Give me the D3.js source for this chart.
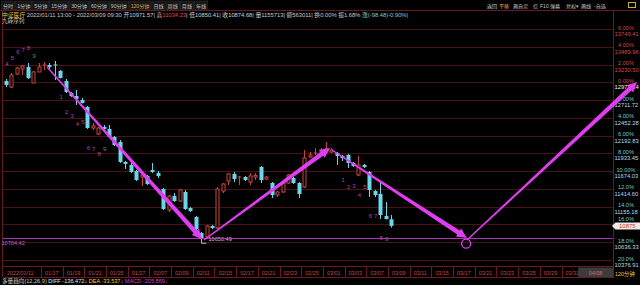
<!DOCTYPE html>
<html>
<head>
<meta charset="utf-8">
<script src="https://cdn.jsdelivr.net/npm/d3@7"></script>
<style>
body{margin:0;background:#000}
svg{display:block}
text{font-family:"Liberation Sans","Noto Sans CJK SC",sans-serif}
</style>
</head>
<body>
<script>
// 120分钟 K线, 2022/01/11 13:00 - 2022/03/09 09:30
const opens  = [12990,12903,13093,13166,13195,12961,13122,13209,13224,13231,13137,12990,12815,12771,12713,12611,12304,12217,12319,12290,12173,12100,11808,11764,11676,11589,11603,11691,11647,11414,11107,11311,11238,11370,11136,11005,10771,10713,10873,10844,11384,11530,11633,11574,11589,11516,11589,11735,11560,11501,11326,11370,11501,11574,11501,11443,11881,11925,11939,11954,11954,11939,11895,11910,11793,11618,11764,11662,11384,11341,11019,10971.57];
const highs  = [13020,13107,13195,13224,13253,13136,13253,13268,13253,13282,13151,13020,12830,12859,12742,12625,12377,12319,12348,12348,12187,12129,11822,11793,11691,11662,11618,11793,11676,11428,11326,11355,11414,11399,11151,11019,10786,10888,10888,11443,11501,11647,11662,11603,11603,11647,11647,11749,11603,11516,11384,11516,11633,11589,11516,11983,11954,12012,12012,12100,12012,11954,11910,11925,11808,11895,11779,11676,11399,11501,11224,11034.23];
const lows   = [12903,12888,13078,13078,13020,12961,13122,13151,13166,13005,13027,12815,12757,12640,12662,12290,12275,12202,12275,12165,12041,11793,11706,11647,11530,11457,11472,11647,11574,11107,11078,11224,11224,11107,11078,10800,10650.49,10698,10829,10829,11355,11472,11516,11472,11530,11472,11545,11501,11545,11282,11297,11355,11487,11487,11282,11428,11866,11910,11925,11939,11939,11764,11822,11720,11735,11603,11720,11297,11297,10975,10968,10850.41];
const closes = [12932,13078,13180,13209,13034,13122,13195,13224,13195,13217,13034,12830,12771,12728,12669,12304,12333,12304,12290,12173,12056,11808,11779,11662,11545,11618,11487,11662,11603,11121,11311,11238,11399,11121,11092,10830,10698,10873,10844,11414,11487,11633,11560,11589,11545,11603,11611,11545,11589,11326,11370,11501,11618,11501,11341,11866,11910,11939,11983,11998,11983,11895,11866,11793,11749,11764,11735,11399,11326,11034,10975,10874.68];

// right axis
const pctLabels   = ["6.00%","4.00%","2.00%","0.00%","2.00%","4.00%","6.00%","8.00%","10.00%","12.0%","14.0%","16.0%","18.0%","20.0%"];
const priceLabels = ["13749.41","13489.96","13230.50","12971.14","12711.72","12452.28","12192.83","11933.45","11674.03","11414.60","11155.18","10895.76","10636.33","10376.91"];

// time axis (bar index of each label)
const tickBars   = [0,7,11,15,19,23,27,31,35,39,43,47,51,55,59,63,67,71,75,79,83,87,91,95,99,103];
const tickLabels = ["2022/01/11","01/17","01/19","01/21","01/25","01/27","02/07","02/09","02/11","02/15","02/17","02/21","02/23","02/25","03/01","03/03","03/07","03/09","03/11","03/15","03/17","03/21","03/23","03/25","03/29","03/31"];
const cursorBar = 107, cursorLabel = "04/08";

// 九转序列
const tdUpBars = [0,1,2,3,4,5], tdUpNums = [4,5,6,7,8,9];
const tdDnBars = [10,11,12,13,14,15,16,17,18,62,63,64,65,66,67,68,69,70];
const tdDnNums = [1,2,3,4,5,6,7,8,9,1,2,3,4,5,6,7,8,9];

// drawn objects: [bar, price]
const arrowFrom = [[7.56,13195],[36.5,10669],[60.1,11983],[85.0,10669]];
const arrowTo   = [[36.15,10680],[59.75,12012],[85.0,10698],[116.4,12976]];
const circleAt  = [84.85,10615];
const hLinePrice = 10704.42;
const lastPrice = 10874.68;

const W = 640, H = 285;
const svg = d3.select("body").append("svg").attr("width",W).attr("height",H)
    .style("background","#000");

const x = d3.scaleLinear().domain([0,71]).range([6,391]);
const y = d3.scaleLinear().domain([10376.91,13749.41]).range([260,29]);
const axisX = 613, red = "#c8463e", cyan = "#6ad6ea", grid = "#4a1212", frame = "#6a1a1a";

// frame + grid
svg.append("line").attr("x1",0).attr("x2",W).attr("y1",10.5).attr("y2",10.5).attr("stroke",frame);
svg.append("line").attr("x1",2.5).attr("x2",2.5).attr("y1",10).attr("y2",277).attr("stroke",frame);
svg.append("line").attr("x1",axisX+0.5).attr("x2",axisX+0.5).attr("y1",10).attr("y2",278).attr("stroke",frame);

svg.selectAll(".grid").data(priceLabels).enter().append("line")
    .attr("x1",3).attr("x2",axisX)
    .attr("y1",d=>Math.round(y(+d))+0.5).attr("y2",d=>Math.round(y(+d))+0.5)
    .attr("stroke",grid);

// right axis labels (the price under the last-price box is hidden)
const py = y(lastPrice);
priceLabels.forEach((p,i)=>{
    const yy = y(+p), up = i < 3, zero = i === 3;
    const nearBox = Math.abs(yy - py) < 6;
    svg.append("text").attr("x",626).attr("y",nearBox ? py-4.6 : yy+0.5).attr("text-anchor","middle")
        .attr("font-size",5.6).attr("fill", up||zero ? "#d04848" : "#6cc8d4").text(pctLabels[i]);
    if (!nearBox)
        svg.append("text").attr("x",614.5).attr("y",yy+7)
            .attr("font-size",5.8).attr("fill", up ? "#d04848" : zero ? "#f0f0f0" : "#b4dde6").text(p);
});

// time axis
svg.append("line").attr("x1",3).attr("x2",axisX).attr("y1",266.5).attr("y2",266.5).attr("stroke",frame);
svg.append("line").attr("x1",3).attr("x2",axisX).attr("y1",277.5).attr("y2",277.5).attr("stroke",frame);
tickBars.forEach((b,i)=>{
    if (i>0) svg.append("line").attr("x1",Math.round(x(b))-2.5).attr("x2",Math.round(x(b))-2.5)
        .attr("y1",267).attr("y2",277).attr("stroke",frame);
    svg.append("text").attr("x",x(b)+1).attr("y",274.5).attr("font-size",5.4)
        .attr("fill","#c84848").text(tickLabels[i]);
});
svg.append("rect").attr("x",x(cursorBar)-8).attr("y",267.5).attr("width",axisX-x(cursorBar)+8).attr("height",9.5)
    .attr("fill","#3c3c3c");
svg.append("text").attr("x",(x(cursorBar)-8+axisX)/2).attr("y",274.5).attr("text-anchor","middle")
    .attr("font-size",5.4).attr("fill","#d07070").text(cursorLabel);
svg.append("text").attr("x",615).attr("y",275.5).attr("font-size",5.4).attr("fill","#e8c848").text("120分钟");

// candles
const bars = opens.map((o,i)=>({i,o,h:highs[i],l:lows[i],c:closes[i]}));
const cg = svg.append("g");
bars.forEach(d=>{
    const cx = Math.round(x(d.i))+0.5, up = d.c >= d.o;
    const col = up ? red : cyan;
    cg.append("line").attr("x1",cx).attr("x2",cx).attr("y1",y(d.h)).attr("y2",y(d.l)).attr("stroke",col);
    const top = y(Math.max(d.o,d.c)), bot = y(Math.min(d.o,d.c));
    if (up) {
        if (bot-top < 1.5) {
            cg.append("line").attr("x1",cx-2).attr("x2",cx+2).attr("y1",top).attr("y2",top).attr("stroke",col);
        } else {
            cg.append("rect").attr("x",cx-1.5).attr("y",top).attr("width",3).attr("height",bot-top)
                .attr("fill","#000").attr("stroke",col);
        }
    } else {
        cg.append("rect").attr("x",cx-2).attr("y",top).attr("width",4).attr("height",Math.max(1,bot-top))
            .attr("fill",col);
    }
});

// 九转序列 digits
tdUpBars.forEach((b,i)=>{
    svg.append("text").attr("x",x(b)+1).attr("y",y(highs[b])-13).attr("text-anchor","middle")
        .attr("font-size",6).attr("fill",tdUpNums[i]===9?"#3fa83f":"#b040b8").text(tdUpNums[i]);
});
tdDnBars.forEach((b,i)=>{
    svg.append("text").attr("x",x(b)+1).attr("y",y(lows[b])+21).attr("text-anchor","middle")
        .attr("font-size",6).attr("fill",tdDnNums[i]===9?"#3fa83f":"#b040b8").text(tdDnNums[i]);
});

// low marker
const lowIdx = d3.minIndex(lows);
const lx = Math.round(x(lowIdx))+0.5, ly = y(lows[lowIdx]);
svg.append("path").attr("d",`M${lx},${ly-3}V${ly+2}H${lx+5}`).attr("fill","none").attr("stroke","#bbb");
svg.append("text").attr("x",lx+7).attr("y",ly).attr("font-size",5.6).attr("fill","#c8c8c8")
    .text(d3.format(".2f")(lows[lowIdx]));

// horizontal line
const hy = Math.round(y(hLinePrice))+0.5;
svg.append("line").attr("x1",3).attr("x2",axisX).attr("y1",hy).attr("y2",hy).attr("stroke","#b030c0");
svg.append("text").attr("x",1.5).attr("y",hy+6).attr("font-size",5.6).attr("fill","#d060d0").text(hLinePrice.toFixed(2));

// arrows (tapered)
const mag = "#de3ef0";
function arrow(a,b){
    const x0=x(a[0]),y0=y(a[1]),x1=x(b[0]),y1=y(b[1]);
    const dx=x1-x0, dy=y1-y0, L=Math.hypot(dx,dy), ux=dx/L, uy=dy/L, nx=-uy, ny=ux;
    const hl=10, hw=4.8, w0=0.6, w1=2.3;
    const bx=x1-ux*hl, by=y1-uy*hl;
    const pts=[[x0+nx*w0,y0+ny*w0],[bx+nx*w1,by+ny*w1],[bx+nx*hw,by+ny*hw],[x1,y1],
               [bx-nx*hw,by-ny*hw],[bx-nx*w1,by-ny*w1],[x0-nx*w0,y0-ny*w0]];
    svg.append("path").attr("d","M"+pts.map(p=>p.join(",")).join("L")+"Z").attr("fill",mag);
}
arrowFrom.forEach((a,i)=>arrow(a,arrowTo[i]));
svg.append("circle").attr("cx",x(circleAt[0])).attr("cy",y(circleAt[1])).attr("r",4.5)
    .attr("fill","none").attr("stroke",mag).attr("stroke-width",1.3);

// last price box
svg.append("path").attr("d",`M612,${py}L615.5,${py-3.5}H640V${py+3.5}H615.5Z`).attr("fill","#ececec");
svg.append("text").attr("x",619).attr("y",py+2.2).attr("font-size",6).attr("fill","#d03030").text(Math.round(lastPrice));

// toolbar
const tabs = ["分时","1分钟","5分钟","15分钟","30分钟","60分钟","90分钟","120分钟","日线","周线","月线","年线"];
let tx = 3;
tabs.forEach(t=>{
    const g = svg.append("g");
    const tt = g.append("text").attr("x",tx).attr("y",8).attr("font-size",5.1)
        .attr("fill", t==="120分钟" ? "#e8a040" : "#c4c4c4").text(t);
    const w = tt.node().getComputedTextLength();
    g.insert("rect","text").attr("x",tx-1.6).attr("y",1).attr("width",w+3.2).attr("height",8.5)
        .attr("fill","#161616").attr("stroke","#2e2e2e").attr("stroke-width",0.6);
    tx += w + 4;
});
const rtools = [["返回",487],["平移",499],["画自定",513],["信",533],["F10",540],["弹幕",550],["复权▾",566],["画线",581],["-自选",594]];
rtools.forEach(([t,px])=>{
    svg.append("text").attr("x",px).attr("y",8).attr("font-size",5.1)
        .attr("fill", t==="平移" ? "#e8a040" : "#c4c4c4").text(t);
});
svg.append("rect").attr("x",628.5).attr("y",2.5).attr("width",7).attr("height",5)
    .attr("fill","none").attr("stroke","#c8b040");

// info line
const info = svg.append("text").attr("x",2).attr("y",16.5).attr("font-size",5.8);
[["中证医疗","#e8c848"],[" 2022/01/11 13:00 - 2022/03/09 09:30 ","#c8c8c8"],
 ["开","#c8c8c8"],["10971.57","#b8dbe2"],["| ","#c8c8c8"],
 ["高","#c8c8c8"],["11034.23","#e04040"],["| ","#c8c8c8"],
 ["低","#c8c8c8"],["10850.41","#b8dbe2"],["| ","#c8c8c8"],
 ["收","#c8c8c8"],["10874.68","#b8dbe2"],["| ","#c8c8c8"],
 ["量1155713| ","#c8c8c8"],["额563011| ","#c8c8c8"],["换0.00% 振1.68% ","#c8c8c8"],
 ["涨(-98.48)-0.90%|","#7cc8dc"]].forEach(([t,c])=>info.append("tspan").attr("fill",c).text(t));
svg.append("text").attr("x",2).attr("y",23).attr("font-size",5.6).attr("fill","#c8c8c8").text("九转序列");

// bottom indicator line
const ind = svg.append("text").attr("x",2).attr("y",283).attr("font-size",5.6);
[["多量趋向(12,26,9)  ","#c8c8c8"],["DIFF -136.472↓  ","#e8e8e8"],["DEA -33.537↓  ","#e8d040"],
 ["MACD -205.869↓","#d040d8"]].forEach(([t,c])=>ind.append("tspan").attr("fill",c).text(t));
</script>
</body>
</html>
